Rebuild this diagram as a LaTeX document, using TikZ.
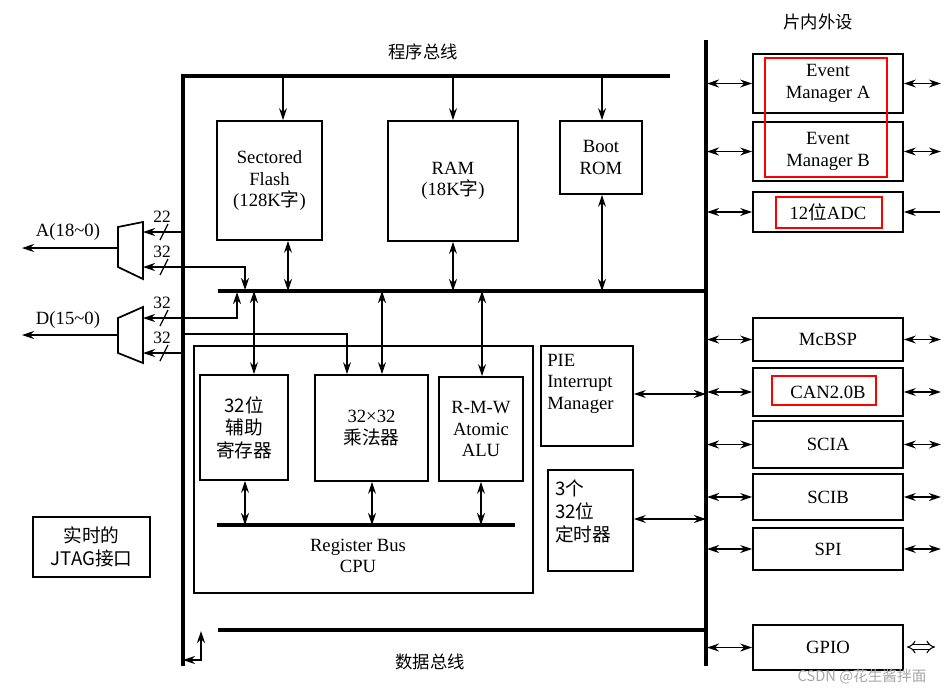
\documentclass[tikz,border=0pt]{standalone}
\usepackage{fontspec}
\setmainfont{Liberation Serif}
\newfontfamily\cjk{Noto Sans CJK SC}
\usetikzlibrary{arrows.meta}
\begin{document}
\begin{tikzpicture}[x=0.75pt,y=-0.75pt,
  box/.style={draw,line width=1.3pt,align=center,font=\fontsize{14}{16}\selectfont,inner sep=0pt},
  bus/.style={line width=2.4pt},
  ar/.style={line width=1.1pt,-{Stealth[length=9pt,width=6pt]}},
  bi/.style={line width=1.1pt,{Stealth[length=9pt,width=6pt]}-{Stealth[length=9pt,width=6pt]}},
  red/.style={draw=red,line width=1pt},
  lbl/.style={font=\fontsize{13}{15}\selectfont,inner sep=0pt}]
\useasboundingbox (0,0) rectangle (944,687);
% buses
\draw[bus] (183,76) -- (670,76);
\draw[bus] (183,74) -- (183,666);
\draw[bus] (706,40) -- (706,666);
\draw[bus] (218,291) -- (706,291);
\draw[bus] (218,630) -- (706,630);
\node[lbl,font=\cjk\fontsize{13}{15}\selectfont] (pb) at (423,52) {程序总线};
\node[lbl,font=\cjk\fontsize{13}{15}\selectfont] (db) at (430,662) {数据总线};
\node[lbl,font=\cjk\fontsize{13}{15}\selectfont] (pp) at (818,22) {片内外设};
% memory
\node[box,minimum width={0.75*105pt},minimum height={0.75*119pt}] (fl) at (269.5,180.5) {Sectored\\Flash\\(128K{\cjk 字})};
\node[box,minimum width={0.75*130pt},minimum height={0.75*120pt}] (ram) at (453,181) {RAM\\(18K{\cjk 字})};
\node[box,minimum width={0.75*82pt},minimum height={0.75*73pt}] (rom) at (601,157.5) {Boot\\ROM};
\draw[ar] (283,76) -- (fl.north -| 283,0);
\draw[ar] (453,76) -- (ram.north);
\draw[ar] (602,76) -- (rom.north -| 602,0);
\draw[bi] (fl.south -| 288,0) -- (288,291);
\draw[bi] (ram.south) -- (453,291);
\draw[bi] (rom.south -| 602,0) -- (602,291);
% muxes
\draw[line width=1.3pt] (118,227) -- (143,222) -- (143,279) -- (118,267) -- cycle;
\draw[line width=1.3pt] (118,318) -- (143,307) -- (143,363) -- (118,353) -- cycle;
\coordinate (ma) at (118,248); \coordinate (mao) at (22,248);
\coordinate (md) at (118,335); \coordinate (mdo) at (22,335);
\draw[ar] (ma) -- (mao);
\draw[ar] (md) -- (mdo);
\node[lbl,font=\fontsize{14}{16}\selectfont] (la) at (68,232) {A(18\textasciitilde0)};
\node[lbl,font=\fontsize{14}{16}\selectfont] (ld) at (68,320) {D(15\textasciitilde0)};
\foreach \y/\t in {232/22,267/32,318/32,353/32}{
  \draw[ar] (183,\y) -- (143,\y);
  \draw[line width=0.9pt] (160,\y+8) -- (168,\y-8);
  \node[lbl] at (162,\y-15) {\t};
}
\draw[ar] (183,267) -| (245,290);
\draw[ar] (183,318) -| (237,292);
% CPU
\draw[line width=1.3pt] (194,346) rectangle (533,593);
\node[box,minimum width={0.75*88pt},minimum height={0.75*105pt},font=\cjk\fontsize{14}{17}\selectfont] (aux) at (244,427.5) {32位\\辅助\\寄存器};
\node[box,minimum width={0.75*113pt},minimum height={0.75*106pt}] (mul) at (371.5,428) {32×32\\{\cjk 乘法器}};
\node[box,minimum width={0.75*84pt},minimum height={0.75*104pt}] (alu) at (481,429) {R-M-W\\Atomic\\ALU};
\draw[ar] (183,334) -| (mul.north -| 347,0);
\draw[bus] (217,525) -- (515,525);
\node[lbl,align=center,font=\fontsize{14}{16}\selectfont] (rb) at (358,556) {Register Bus\\CPU};
\draw[bi] (254,291) -- (aux.north -| 254,0);
\draw[bi] (382,291) -- (mul.north -| 382,0);
\draw[bi] (482,291) -- (alu.north -| 482,0);
\draw[bi] (aux.south -| 245,0) -- (245,525);
\draw[bi] (mul.south -| 372,0) -- (372,525);
\draw[bi] (alu.south) -- (481,525);
% PIE, timer
\node[box,minimum width={0.75*92pt},minimum height={0.75*100pt}] (pie) at (587,396) {};
\node[lbl,align=left,anchor=north west,font=\fontsize{14}{16}\selectfont] (piet) at (547,354) {PIE\\Interrupt\\Manager};
\node[box,minimum width={0.75*85pt},minimum height={0.75*101pt}] (tm) at (590.5,520.5) {};
\node[lbl,align=left,anchor=north west,font=\cjk\fontsize{14}{17}\selectfont] (tmt) at (555,480) {3个\\32位\\定时器};
\draw[bi] (pie.east |- 0,394) -- (706,394);
\draw[bi] (tm.east |- 0,519) -- (706,519);
% peripherals
\foreach \n/\a/\b/\t in {ea/54/113/{Event\\Manager A},eb/122/181/{Event\\Manager B},adc/192/232/{12{\cjk 位}ADC},mc/318/361/McBSP,can/368/416/CAN2.0B,sa/421/468/SCIA,sb/474/520/SCIB,spi/528/570/SPI,gp/625/670/GPIO}{
  \node[box,minimum width={0.75*150pt},minimum height={0.75*(\b-\a)*1pt}] (\n) at (828,{(\a+\b)/2}) {\t};
  \draw[bi] (707,{(\a+\b)/2}) -- (\n.west);
}
\foreach \n in {ea,eb,mc,can,sa,sb,spi}{\draw[bi] (\n.east) -- ++(37,0);}
\draw[ar] (940,212) -- (adc.east);
\draw[line width=0.8pt,double,double distance=2.5pt,{Implies}-{Implies}] (907,647) -- (935,647);
\draw[red] (765,58) rectangle (887,177);
\draw[red] (776,197) rectangle (882,228);
\draw[red] (772,376) rectangle (876,405);
% bottom link
\draw[bi] (183,660) -| (201,631);
% JTAG
\node[box,minimum width={0.75*117pt},minimum height={0.75*60pt},font=\cjk\fontsize{14}{17}\selectfont] (jt) at (91.5,547) {实时的\\JTAG接口};
\node[lbl,text=gray!70,font=\cjk\fontsize{11}{13}\selectfont] (wm) at (862,677) {CSDN @花生酱拌面};
\end{tikzpicture}
\end{document}
